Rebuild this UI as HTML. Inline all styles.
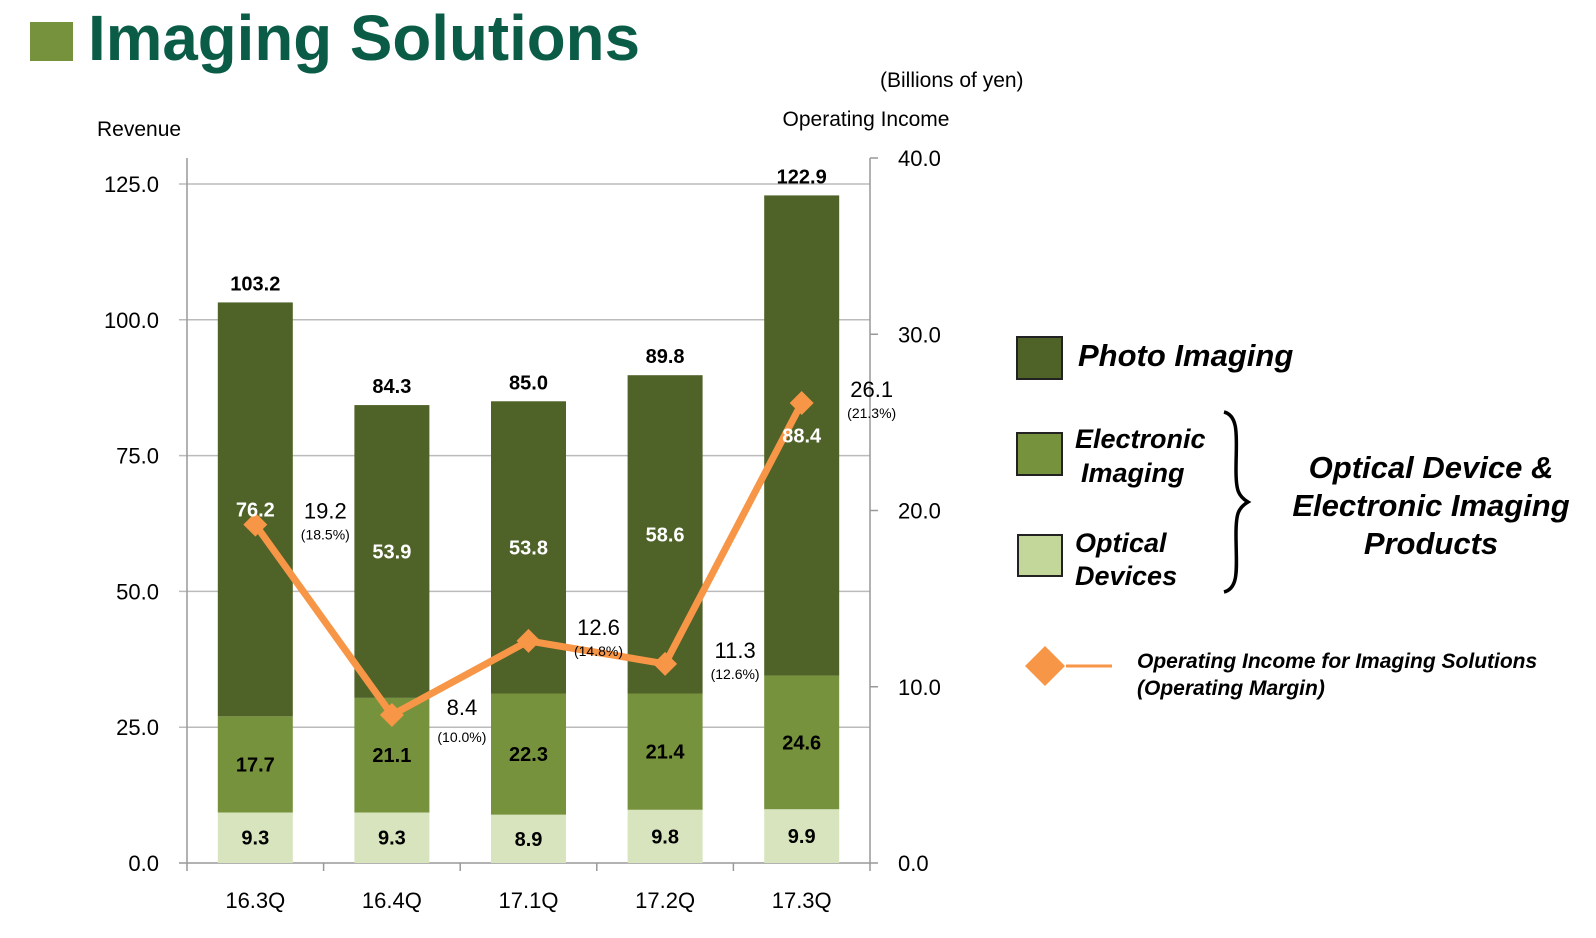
<!DOCTYPE html>
<html><head><meta charset="utf-8"><style>
body{margin:0;background:#fff;width:1596px;height:938px;overflow:hidden;font-family:"Liberation Sans",sans-serif}
svg{display:block}
</style></head><body>
<svg id="chart" width="1596" height="938">
<rect x="30" y="22" width="43" height="39" fill="#76923c"/>
<text x="88" y="60" font-size="64" font-weight="bold" fill="#0b5c46" textLength="552" lengthAdjust="spacingAndGlyphs">Imaging Solutions</text>
<text x="880" y="87" font-size="21" fill="#000">(Billions of yen)</text>
<text x="866" y="126" font-size="21" text-anchor="middle" fill="#000">Operating Income</text>
<text x="97" y="136" font-size="21" fill="#000">Revenue</text>
<g id="grid"></g><g id="bars"></g><g id="line"></g><g id="labels"></g>
<g>
<rect x="1017" y="337" width="45" height="42" fill="#4f6228" stroke="#222" stroke-width="2"/>
<text x="1078" y="366" font-size="31" font-weight="bold" font-style="italic">Photo Imaging</text>
<rect x="1017" y="433" width="45" height="42" fill="#76923c" stroke="#222" stroke-width="2"/>
<text x="1075" y="448" font-size="27" font-weight="bold" font-style="italic"><tspan x="1075">Electronic</tspan><tspan x="1081" dy="34">Imaging</tspan></text>
<rect x="1018" y="535" width="44" height="41" fill="#c4d79b" stroke="#222" stroke-width="2"/>
<text x="1075" y="552" font-size="27" font-weight="bold" font-style="italic"><tspan x="1075">Optical</tspan><tspan x="1075" dy="33">Devices</tspan></text>
<path d="M1224,412 C1240,416 1236,440 1236,470 C1236,490 1238,496 1248,502 C1238,508 1236,514 1236,534 C1236,566 1240,588 1224,592" fill="none" stroke="#000" stroke-width="3.5"/>
<text x="1431" y="478" font-size="31" font-weight="bold" font-style="italic" text-anchor="middle"><tspan x="1431">Optical Device &amp;</tspan><tspan x="1431" dy="38">Electronic Imaging</tspan><tspan x="1431" dy="38">Products</tspan></text>
<polygon points="1045,646 1065,666 1045,686 1025,666" fill="#f79646"/>
<line x1="1066" y1="666" x2="1112" y2="666" stroke="#f79646" stroke-width="3"/>
<text x="1137" y="668" font-size="21" font-weight="bold" font-style="italic"><tspan x="1137">Operating Income for Imaging Solutions</tspan><tspan x="1137" dy="27">(Operating Margin)</tspan></text>
</g>
</svg>
<script>
const categories=["16.3Q","16.4Q","17.1Q","17.2Q","17.3Q"];
const optical=[9.3,9.3,8.9,9.8,9.9];
const electronic=[17.7,21.1,22.3,21.4,24.6];
const photo=[76.2,53.9,53.8,58.6,88.4];
const totals=[103.2,84.3,85.0,89.8,122.9];
const income=[19.2,8.4,12.6,11.3,26.1];
const margins=["(18.5%)","(10.0%)","(14.8%)","(12.6%)","(21.3%)"];
const leftTicks=[0,25,50,75,100,125];
const rightTicks=[0,10,20,30,40];
const NS="http://www.w3.org/2000/svg";
const X0=187,X1=870,Y0=863;
const yL=v=>Y0-v*(863-184)/125;
const yR=v=>Y0-v*(863-158)/40;
const band=(X1-X0)/categories.length;
const xC=i=>X0+band*(i+0.5);
const BW=75;
function mk(p,tag,a){const e=document.createElementNS(NS,tag);for(const k in a)e.setAttribute(k,a[k]);p.appendChild(e);return e;}
const grid=document.getElementById('grid'),bars=document.getElementById('bars'),line=document.getElementById('line'),labels=document.getElementById('labels');
leftTicks.forEach(t=>{
 const l=mk(grid,'line',{x1:X0-8,x2:X1,y1:yL(t),y2:yL(t),stroke:t===0?'#999':'#bbb','stroke-width':1.5});
 
 
 const tx=mk(grid,'text',{x:X0-28,y:yL(t)+8,'font-size':22,'text-anchor':'end',fill:'#000'});tx.textContent=t.toFixed(1);
 
 
});
rightTicks.forEach(t=>{
 const l=mk(grid,'line',{x1:X1,x2:X1+8,y1:yR(t),y2:yR(t),stroke:'#999','stroke-width':1.5});
 
 
 const tx=mk(grid,'text',{x:X1+28,y:yR(t)+8,'font-size':22,fill:'#000'});tx.textContent=t.toFixed(1);
 
 
});
const ax=mk(grid,'line',{x1:X0,x2:X0,y1:158,y2:Y0,stroke:'#999','stroke-width':1.5});


const ax2=mk(grid,'line',{x1:X1,x2:X1,y1:158,y2:Y0,stroke:'#999','stroke-width':1.5});


for(let i=0;i<=categories.length;i++){
 const t=mk(grid,'line',{x1:X0+band*i,x2:X0+band*i,y1:Y0,y2:Y0+8,stroke:'#999','stroke-width':1.5});
 
 
}
function lab(txt,x,y,size,fill,bold,name){
 const t=mk(labels,'text',{x:x,y:y,'font-size':size,'text-anchor':'middle',fill:fill,'font-weight':bold?'bold':'normal'});
 t.textContent=txt;
 
 
 return t;
}
categories.forEach((c,i)=>{
 const x=xC(i)-BW/2;
 const segs=[[0,optical[i],'#d7e4bd','bar-optical','#000'],[optical[i],optical[i]+electronic[i],'#76923c','bar-electronic','#000'],[optical[i]+electronic[i],optical[i]+electronic[i]+photo[i],'#4f6228','bar-photo','#fff']];
 const vals=[optical[i],electronic[i],photo[i]];
 segs.forEach((s,k)=>{
  const r=mk(bars,'rect',{x:x,y:yL(s[1]),width:BW,height:yL(s[0])-yL(s[1]),fill:s[2]});
  
  
  lab(vals[k].toFixed(1),xC(i),(yL(s[0])+yL(s[1]))/2+7,20,s[4],true,s[3]+'-value');
 });
 lab(totals[i].toFixed(1),xC(i),yL(totals[i])-12,20,'#000',true,'total-value');
 lab(c,xC(i),908,22,'#000',false,'x-tick-label');
});
const pts=income.map((v,i)=>xC(i)+','+yR(v)).join(' ');
const pl=mk(line,'polyline',{points:pts,fill:'none',stroke:'#f79646','stroke-width':7,'stroke-linejoin':'miter'});


income.forEach((v,i)=>{
 const x=xC(i),y=yR(v);
 const d=mk(line,'polygon',{points:`${x},${y-12} ${x+12},${y} ${x},${y+12} ${x-12},${y}`,fill:'#f79646'});
 
 
 lab(v.toFixed(1),x+70,y+(i===1?0:-6),22,'#000',false,'income-value');
 lab(margins[i],x+70,y+(i===1?27:15),14,'#000',false,'margin-value');
});
</script>
</body></html>
